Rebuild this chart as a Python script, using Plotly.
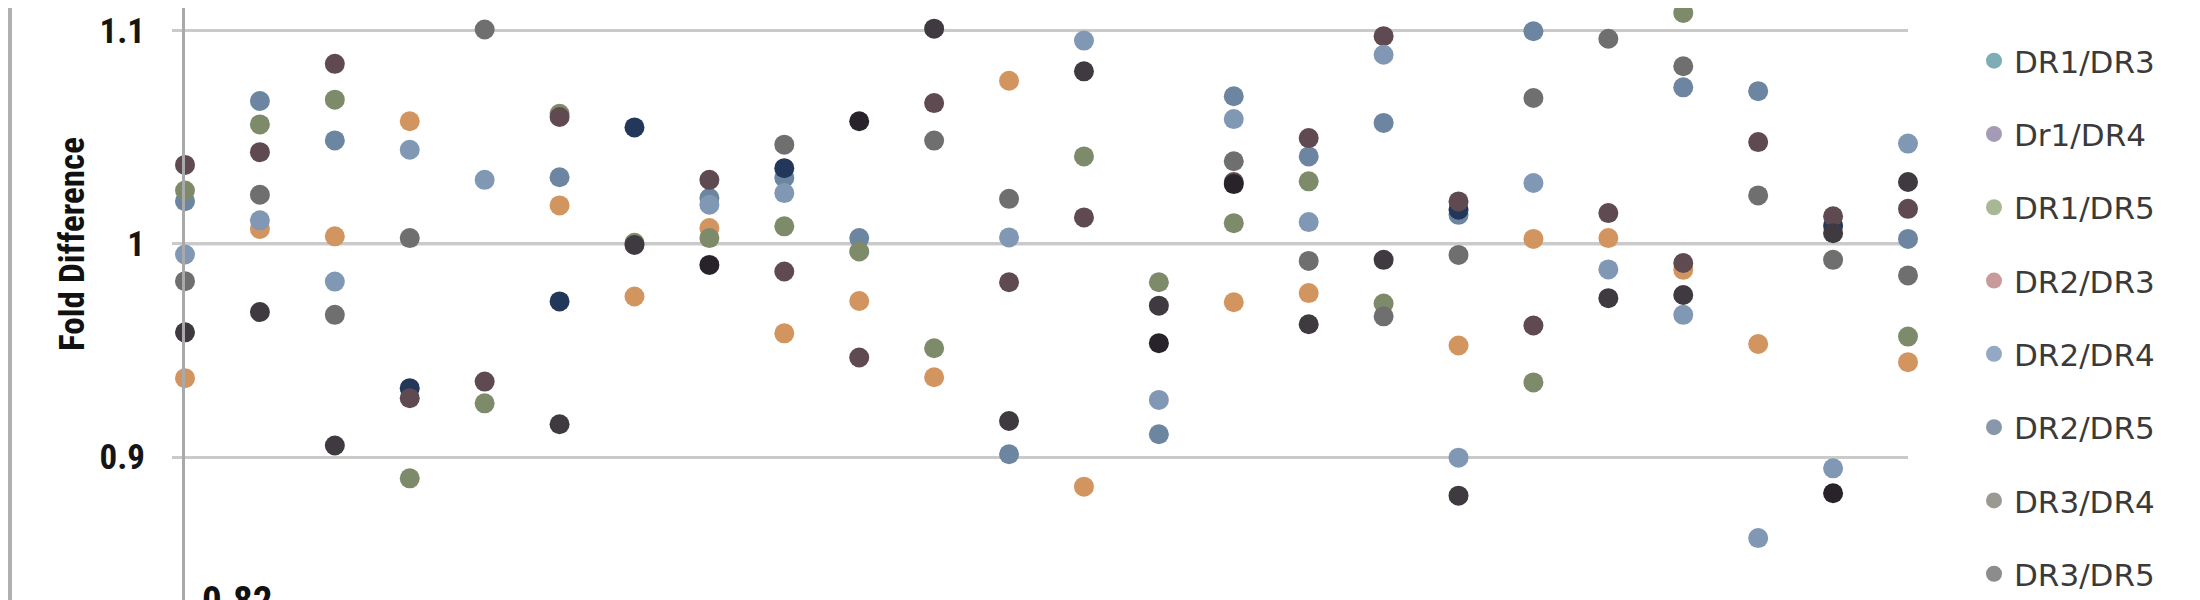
import plotly.graph_objects as go

# ---------------- data ----------------
columns = [1, 2, 3, 4, 5, 6, 7, 8, 9, 10, 11, 12, 13, 14, 15, 16, 17, 18, 19, 20, 21, 22, 23, 24]

dr1_dr2 = [0.937, 1.007, 1.0035, 1.0575, None, 1.018, 0.9753, 1.0074, 0.958, 0.9732, 0.9374, 1.0765,
           0.8861, None, 0.9726, 0.9769, None, 0.9523, 1.0023, 1.0027, 0.9878, 0.953, None, 0.9445]
dr1_dr3 = [1.020, 1.067, 1.0485, None, 1.113, 1.0312, None, 1.0215, 1.031, 1.0027, None, 0.9013,
           None, 0.9107, 1.0692, 1.041, 1.0567, 1.0136, 1.0997, 1.1125, 1.0734, 1.0716, None, 1.0023]
dr1_dr4 = [None, None, None, 0.9323, None, 0.973, 1.0546, None, 1.0355, None, None, None,
           None, None, None, None, None, 1.016, None, None, None, None, 1.0085, None]
dr1_dr5 = [1.025, 1.056, 1.0676, 0.890, 0.9252, 1.061, 1.0005, 1.0027, 1.0082, 0.9964, 0.951, 1.112,
           1.041, 0.982, 1.0097, 1.0293, 0.972, None, 0.935, None, 1.1083, None, None, 0.9565]
dr2_dr3 = [1.037, 1.043, 1.0844, 0.9276, 0.9354, 1.0595, None, 1.030, 0.987, 0.9467, 1.066, 0.982,
           1.0124, None, 1.029, 1.0496, 1.0974, 1.0199, 0.9617, 1.0144, 0.991, 1.0477, 1.0129, 1.0164]
dr2_dr4 = [0.995, 1.011, 0.9823, 1.0441, 1.030, None, None, 1.0183, 1.0238, None, None, 1.003,
           1.0953, 0.9268, 1.0585, 1.0102, 1.0887, 0.8997, 1.0285, 0.988, 0.9667, 0.862, 0.8947, 1.047]
dr2_dr5 = [None, None, None, None, None, None, None, 0.9901, None, 1.0575, None, None,
           None, 0.9534, 1.028, None, None, None, None, None, None, None, 0.883, None]
dr3_dr4 = [0.9825, 1.023, 0.9667, 1.0027, 1.1005, None, None, None, 1.0465, None, 1.0484, 1.0211,
           None, None, 1.0387, 0.992, 0.966, 0.9948, 1.0684, 1.0962, 1.0833, 1.0227, 0.9925, 0.9852]
dr3_dr5 = [0.9585, 0.968, 0.9054, None, None, 0.9154, 0.9995, None, None, None, 1.1009, 0.9169,
           1.0809, 0.971, None, 0.9623, 0.9925, 0.8819, None, 0.9745, 0.976, None, 1.005, 1.029]

series_names = ["DR1/DR2", "DR1/DR3", "Dr1/DR4", "DR1/DR5", "DR2/DR3",
                "DR2/DR4", "DR2/DR5", "DR3/DR4", "DR3/DR5"]
series_values = [dr1_dr2, dr1_dr3, dr1_dr4, dr1_dr5, dr2_dr3, dr2_dr4, dr2_dr5, dr3_dr4, dr3_dr5]
point_colors = ["#D3955F", "#6C85A0", "#23375A", "#7E8B6B", "#5F4A52",
                "#8198B5", "#28232A", "#6F6F6F", "#3E3A40"]

# legend entries visible in the (cropped) legend
legend_names = ["DR1/DR3", "Dr1/DR4", "DR1/DR5", "DR2/DR3", "DR2/DR4", "DR2/DR5", "DR3/DR4", "DR3/DR5"]
legend_colors = ["#7FADB6", "#A69BB6", "#A8B894", "#C89A9A", "#93A8C4", "#8898AA", "#9A9A93", "#8C8C8C"]

y_tick_vals = [0.9, 1.0, 1.1]
y_tick_text = ["0.9", "1", "1.1"]
y_title = "Fold Difference"
corner_label = "0.82"

# ---------------- layout constants ----------------
W, H = 2200, 600
ML, MR = 177, 300
PW = W - ML - MR


def px_to_paper_x(px):
    return (px - ML) / PW


def px_to_paper_y(py):
    return (H - py) / H


COND = ("Roboto Condensed, Open Sans Condensed, Liberation Sans Narrow, "
        "Noto Sans ExtraCondensed, Liberation Sans, sans-serif")

fig = go.Figure()

for name, vals, col in zip(series_names, series_values, point_colors):
    fig.add_trace(go.Scatter(
        x=columns, y=vals, mode="markers", name=name, showlegend=False,
        cliponaxis=False, hoverinfo="skip",
        marker=dict(size=20, color=col, line=dict(width=0)),
    ))

for name, col in zip(legend_names, legend_colors):
    fig.add_trace(go.Scatter(
        x=[None], y=[None], mode="markers", name=name, legendgroup=name,
        marker=dict(size=20, color=col, line=dict(width=0)),
    ))

fig.update_layout(
    template="none",
    width=W, height=H,
    margin=dict(l=ML, r=MR, t=0, b=0, autoexpand=False),
    paper_bgcolor="white", plot_bgcolor="white",
    showlegend=True,
    legend=dict(
        x=px_to_paper_x(1966), xanchor="left",
        y=px_to_paper_y(26), yanchor="top",
        font=dict(family="DejaVu Sans, Verdana, sans-serif", size=31, color="#3A3A3A"),
        tracegroupgap=30, bgcolor="rgba(0,0,0,0)", borderwidth=0,
        itemsizing="trace",
    ),
    xaxis=dict(range=[1, 24], showgrid=False, zeroline=False, showline=False,
               showticklabels=False, ticks="", fixedrange=True),
    yaxis=dict(
        range=[0.8292, 1.1106], tickvals=y_tick_vals, ticktext=y_tick_text,
        showgrid=True, gridcolor="#CACACA", gridwidth=3,
        ticks="outside", ticklen=10, tickwidth=3, tickcolor="#CACACA",
        showline=True, linecolor="#A9A9A9", linewidth=3,
        zeroline=False, ticklabelstandoff=20,
        tickfont=dict(family=COND, size=35, color="#151515", weight="bold"),
        fixedrange=True,
    ),
    shapes=[
        dict(type="line", xref="paper", yref="y", x0=0, x1=1, y0=1.0, y1=1.0,
             line=dict(color="#9E9E9E", width=3), layer="below"),
        dict(type="line", xref="paper", yref="paper", x0=px_to_paper_x(2), x1=px_to_paper_x(2),
             y0=0, y1=1, line=dict(color="#B0B0B0", width=4)),
        dict(type="line", xref="paper", yref="paper", x0=px_to_paper_x(2197), x1=px_to_paper_x(2197),
             y0=0, y1=1, line=dict(color="#B0B0B0", width=4)),
    ],
    annotations=[
        dict(text=y_title, textangle=-90, xref="paper", yref="paper",
             x=px_to_paper_x(64), y=px_to_paper_y(236), xanchor="center", yanchor="middle",
             showarrow=False, font=dict(family=COND, size=35, color="#111111", weight="bold")),
        dict(text=corner_label, xref="paper", yref="paper",
             x=px_to_paper_x(192), y=px_to_paper_y(568), xanchor="left", yanchor="top",
             showarrow=False, font=dict(family=COND, size=39, color="#111111", weight="bold")),
    ],
)

fig.write_html("out.html")
